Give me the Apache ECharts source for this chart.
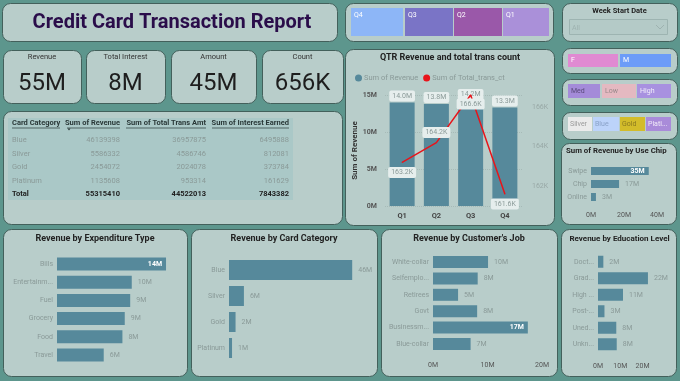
<!DOCTYPE html>
<html><head><meta charset="utf-8">
<script src="https://cdn.jsdelivr.net/npm/echarts@6/dist/echarts.min.js"></script>
<style>html,body{margin:0;padding:0;background:#5d968d;}#c{width:680px;height:381px;}</style>
</head><body><div id="c"></div><script>
const reportTitle = 'Credit Card Transaction Report';
const kpiLabels = ['Revenue','Total Interest','Amount','Count'];
const kpiValues = ['55M','8M','45M','656K'];
const tableHeaders = ['Card Category','Sum of Revenue','Sum of Total Trans Amt','Sum of Interest Earned'];
const tableCategories = ['Blue','Silver','Gold','Platinum'];
const tableRevenue = [46139398,5586332,2454072,1135608];
const tableTransAmt = [36957875,4586746,2024078,953314];
const tableInterest = [6495888,812081,373784,161629];
const tableTotals = [55315410,44522013,7843382];
const quarters = ['Q1','Q2','Q3','Q4'];
const qtrRevenue = [14.0e6,13.8e6,14.2e6,13.3e6];
const qtrTransCount = [163200,164200,166600,161600];
const quarterSlicer = ['Q4','Q3','Q2','Q1'];
const genderSlicer = ['F','M'];
const incomeSlicer = ['Med','Low','High'];
const cardSlicer = ['Silver','Blue','Gold','Plati...'];
const chipCats = ['Swipe','Chip','Online'];
const chipRevenue = [35.0e6,17.0e6,3.0e6];
const chipTicks = [0,20e6,40e6];
const expCats = ['Bills','Entertainm...','Fuel','Grocery','Food','Travel'];
const expRevenue = [14.0e6,9.6e6,9.4e6,8.7e6,8.4e6,6.0e6];
const cardCats = ['Blue','Silver','Gold','Platinum'];
const cardRevenue = [46139398,5586332,2454072,1135608];
const jobCats = ['White-collar','Selfemplo...','Retirees','Govt','Businessm...','Blue-collar'];
const jobRevenue = [10.1e6,8.2e6,4.6e6,8.1e6,17.4e6,6.9e6];
const jobTicks = [0,10e6,20e6];
const eduCats = ['Doct...','Grad...','High ...','Post-...','Uned...','Unkn...'];
const eduRevenue = [2.4e6,22.4e6,11.2e6,2.9e6,8.2e6,8.4e6];
const eduTicks = [0,10e6,20e6];
const countTicks = [162000,164000,166000];

const FONT = 'Roboto';
const PANEL = '#b8cdca', BORDER = '#43605b', BAR = '#56899b';
const GRAY = '#8a9a98';
const g = [];
function panel(x,y,w,h){ g.push({type:'rect',shape:{x:x,y:y,width:w,height:h,r:8},style:{fill:PANEL,stroke:BORDER,lineWidth:1}}); }
function txt(t,x,y,o){ o=o||{}; g.push({type:'text',z:10,style:{text:t,x:x,y:y,fill:o.fill||'#222',fontSize:o.size||8,fontWeight:o.weight||'normal',fontFamily:o.family||FONT,align:o.align||'left',textAlign:o.align||'left',verticalAlign:'middle',textVerticalAlign:'middle'}}); }
function rect(x,y,w,h,fill,stroke){ g.push({type:'rect',z:5,shape:{x:x,y:y,width:w,height:h},style:{fill:fill,stroke:stroke||null,lineWidth:1}}); }
function line(x1,y1,x2,y2,c,w){ g.push({type:'line',z:11,shape:{x1:x1,y1:y1,x2:x2,y2:y2},style:{stroke:c,lineWidth:w||1}}); }

// panels
panel(2.5,3.5,335,38);
const kpiX = [[3,81],[86,165],[171,256],[262,343]];
kpiX.forEach((p,i)=>{ panel(p[0]+0.5,50.5,p[1]-p[0],53); txt(kpiLabels[i],(p[0]+p[1])/2,57.5,{align:'center',size:7.5,fill:'#333'}); txt(kpiValues[i],(p[0]+p[1])/2,84,{align:'center',size:24,fill:'#1e1e1e'}); });
txt(reportTitle,172,23,{align:'center',size:20,weight:'bold',fill:'#2a0d4a'});
panel(3.5,111.5,339,113);
panel(345.5,3.5,208,38);
panel(562.5,3.5,115,38);
panel(345.5,49.5,209,176);
panel(562.5,48.5,115,25);
panel(562.5,79.5,115,26);
panel(562.5,112.5,115,27);
panel(561.5,143.5,115,81);
panel(3.5,229.5,184,147);
panel(191.5,229.5,186,147);
panel(381.5,229.5,176,147);
panel(561.5,229.5,115,147);

// table
rect(8,118,285,82,'#aac8c7');
const hx = [12,120,206,289];
const hAlign = ['left','right','right','right'];
const hStart = [12,67,126,212];
tableHeaders.forEach((h,i)=>{ txt(h,hx[i],123.5,{align:hAlign[i],size:7.5,weight:'bold',fill:'#2a3838'}); line(hStart[i],128,hx[i]+(i==0?48:0),128,'#2a3838',0.7); });
g.push({type:'polygon',z:11,shape:{points:[[67.5,128.5],[70.5,128.5],[69,130.5]]},style:{fill:'#2a3838'}});
const rowY=[140.5,154,167.5,181,194.5];
tableCategories.forEach((c,i)=>{
  txt(c,12,rowY[i],{size:7.5,fill:GRAY});
  txt(String(tableRevenue[i]),120,rowY[i],{size:7.5,fill:GRAY,align:'right'});
  txt(String(tableTransAmt[i]),206,rowY[i],{size:7.5,fill:GRAY,align:'right'});
  txt(String(tableInterest[i]),289,rowY[i],{size:7.5,fill:GRAY,align:'right'});
});
txt('Total',12,rowY[4],{size:7.5,weight:'bold',fill:'#222'});
tableTotals.forEach((v,i)=>txt(String(v),hx[i+1],rowY[4],{size:7.5,weight:'bold',fill:'#222',align:'right'}));

// quarter slicer
const qTiles=[[351,403,'#8db6f7'],[405,453,'#7a74c6'],[454,502,'#9a58a9'],[503,549,'#aa90d9']];
quarterSlicer.forEach((q,i)=>{ rect(qTiles[i][0],8,qTiles[i][1]-qTiles[i][0],28,qTiles[i][2]); txt(q,qTiles[i][0]+3,15,{size:7,fill:'#ffffff'}); });
// week start date
txt('Week Start Date',619.5,11,{align:'center',size:7.5,weight:'bold',fill:'#222'});
rect(569.5,19.5,98,15,'#b4cac7','#9db4b1');
txt('All',572,28,{size:7,fill:'#9eb2b0'});
g.push({type:'polyline',z:11,shape:{points:[[656,25],[660,29],[664,25]]},style:{stroke:'#9eb2b0',lineWidth:1,fill:null}});
// gender
const gTiles=[[568,618,'#e08ad2','#fff'],[620,671,'#6c9cf8','#fff']];
genderSlicer.forEach((s,i)=>{ rect(gTiles[i][0],54,gTiles[i][1]-gTiles[i][0],13,gTiles[i][2]); txt(s,gTiles[i][0]+3,60.5,{size:7,fill:gTiles[i][3]}); });
const iTiles=[[568,600,'#a48bd9','#5a4a7a'],[602,636,'#e4b9c1','#9a8a8c'],[637,671,'#a891e0','#f2eefa']];
incomeSlicer.forEach((s,i)=>{ rect(iTiles[i][0],84,iTiles[i][1]-iTiles[i][0],14,iTiles[i][2]); txt(s,iTiles[i][0]+3,91,{size:7,fill:iTiles[i][3]}); });
const cTiles=[[568,592,'#ebebeb','#9a9a9a'],[593,619,'#bcd3fa','#8aa2c8'],[620,645,'#d3bc2a','#8c7a20'],[646,671,'#a98bd9','#f0eaf8']];
cardSlicer.forEach((s,i)=>{ rect(cTiles[i][0],117,cTiles[i][1]-cTiles[i][0],14,cTiles[i][2]); txt(s,cTiles[i][0]+2,124,{size:7,fill:cTiles[i][3]}); });

// chart titles
const TT = {size:9,weight:'bold',fill:'#222'};
txt('QTR Revenue and total trans count',450,58,Object.assign({align:'center'},TT));
txt('Sum of Revenue by Use Chip',566,151.5,Object.assign({align:'left'},TT,{size:7.8}));
txt('Revenue by Expenditure Type',95,238.5,Object.assign({align:'center'},TT));
txt('Revenue by Card Category',284,238.5,Object.assign({align:'center'},TT));
txt("Revenue by Customer's Job",469,238.5,Object.assign({align:'center'},TT));
txt('Revenue by Education Level',619.5,238.5,Object.assign({align:'center'},TT,{size:8}));

const fmtM = v => Math.round(v/1e6)+'M';
function hbar(gi, vals, bw, bigIdx){
  return {type:'bar',xAxisIndex:gi,yAxisIndex:gi,barWidth:bw,data:vals.map((v,i)=>({value:v,label: i===bigIdx?{position:'insideRight',color:'#fff',fontWeight:'bold',distance:4}:{}})),
    itemStyle:{color:BAR},label:{show:true,position:'right',distance:6,formatter:p=>fmtM(p.value),color:GRAY,fontSize:7,fontFamily:FONT},silent:true};
}
function catAxis(gi,cats){ return {type:'category',gridIndex:gi,data:cats,inverse:true,axisLine:{show:false},axisTick:{show:false},axisLabel:{color:GRAY,fontSize:7,fontFamily:FONT,margin:4}}; }
function valAxis(gi,max,ticks,show,margin){ return {type:'value',gridIndex:gi,min:0,max:max,axisLine:{show:false},axisTick:{show:false},splitLine:{show:false},
  axisLabel:{show:show,customValues:ticks,formatter:v=>fmtM(v),color:'#555',fontSize:7,fontFamily:FONT,margin:margin||8}}; }

const option = {
  animation:false,
  backgroundColor:'#5d968d',
  graphic:{elements:g},
  legend:{data:['Sum of Revenue','Sum of Total_trans_ct'],left:350,top:69,icon:'circle',itemWidth:7,itemHeight:7,itemGap:5,textStyle:{color:'#8a9a98',fontSize:7.5,fontFamily:FONT,padding:[0,0,0,-3]}},
  grid:[
    {left:385,width:137,top:95,height:111},
    {left:591,width:66,top:164.5,height:39},
    {left:57,width:124.6,top:255,height:109},
    {left:229,width:133.5,top:257,height:104},
    {left:433,width:109,top:253.8,height:98.4},
    {left:598,width:55.75,top:253.5,height:99}
  ],
  xAxis:[
    {type:'category',gridIndex:0,data:quarters,axisLine:{show:false},axisTick:{show:false},axisLabel:{color:'#444',fontSize:7.5,fontWeight:'bold',fontFamily:FONT,margin:6}},
    valAxis(1,40e6,chipTicks,true,8),
    valAxis(2,16e6,[],false),
    valAxis(3,50e6,[],false),
    valAxis(4,20e6,jobTicks,true,10),
    valAxis(5,25e6,eduTicks,true,10)
  ],
  yAxis:[
    {type:'value',gridIndex:0,min:0,max:15e6,interval:5e6,name:'Sum of Revenue',nameLocation:'middle',nameGap:26,nameTextStyle:{color:'#333',fontSize:8,fontWeight:'bold',fontFamily:FONT},
      axisLabel:{formatter:v=>fmtM(v),color:'#555',fontSize:7,fontWeight:'bold',fontFamily:FONT,margin:8},axisLine:{show:false},axisTick:{show:false},splitLine:{show:true,lineStyle:{color:'#a6bab7',type:'dotted'}}},
    catAxis(1,chipCats),
    catAxis(2,expCats),
    catAxis(3,cardCats),
    catAxis(4,jobCats),
    catAxis(5,eduCats),
    {type:'value',gridIndex:0,position:'right',min:161000,max:166600,axisLabel:{customValues:countTicks,formatter:v=>(v/1000)+'K',color:'#98a8a6',fontSize:7,fontFamily:FONT,margin:10},axisLine:{show:false},axisTick:{show:false},splitLine:{show:false}}
  ],
  series:[
    {name:'Sum of Revenue',type:'bar',xAxisIndex:0,yAxisIndex:0,barWidth:25,data:qtrRevenue,itemStyle:{color:BAR},
      label:{show:true,position:'top',distance:1,formatter:p=>(p.value/1e6).toFixed(1)+'M',color:'#8a9a98',fontSize:7,fontFamily:FONT,backgroundColor:'#e6eeed',padding:[2,3],borderRadius:2}},
    {name:'Sum of Total_trans_ct',type:'line',xAxisIndex:0,yAxisIndex:6,symbol:'circle',symbolSize:1,showSymbol:true,itemStyle:{color:'#e8141a'},lineStyle:{color:'#e8141a',width:1.5},
      data:qtrTransCount.map((v,i)=>({value:v,label:{position:['bottom','top','bottom','bottom'][i],distance:[4,4,3,4][i]}})),
      label:{show:true,formatter:p=>(p.value/1000).toFixed(1)+'K',color:'#8a9a98',fontSize:7,fontFamily:FONT,backgroundColor:'#e6eeed',padding:[2,3],borderRadius:2}},
    hbar(1,chipRevenue,8,0),
    hbar(2,expRevenue,13,0),
    hbar(3,cardRevenue,20,-1),
    hbar(4,jobRevenue,12,4),
    hbar(5,eduRevenue,12,-1)
  ]
};
const chart = echarts.init(document.getElementById('c'),null,{renderer:'canvas'});
chart.setOption(option);
</script></body></html>
